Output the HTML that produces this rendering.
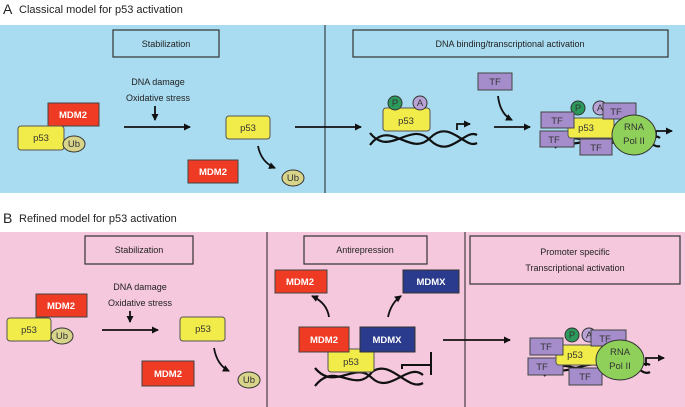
<!DOCTYPE html>
<html><head><meta charset="utf-8"><style>
body{margin:0;background:#fff}
svg{display:block;font-family:"Liberation Sans",sans-serif}
</style></head><body>
<svg width="685" height="407" viewBox="0 0 685 407">
<defs>
<marker id="ah" markerWidth="8" markerHeight="8" refX="6" refY="4" orient="auto" markerUnits="userSpaceOnUse"><path d="M0,0.5 L7,4 L0,7.5 z" fill="#111"/></marker>
</defs>
<style>
.t{font-size:9px;fill:#222;text-anchor:middle}
.w{font-size:9.5px;fill:#fff;text-anchor:middle;font-weight:bold}
.k{font-size:9.5px;fill:#333;text-anchor:middle}
.ln{stroke:#111;stroke-width:1.8;fill:none}
.box{fill:none;stroke:#333;stroke-width:1.2}
.y{fill:#f2ec4a;stroke:#555;stroke-width:1}
.r{fill:#ef3a24;stroke:#444;stroke-width:1}
.b{fill:#2a3a8c;stroke:#333;stroke-width:1}
.tf{fill:#a58ccb;stroke:#444;stroke-width:1}
.ub{fill:#d8d48a;stroke:#333;stroke-width:1}
.dna{stroke:#111;stroke-width:2.2;fill:none}
</style>
<text x="3" y="14" font-size="14" fill="#222">A</text>
<text x="19" y="13" font-size="11" fill="#222">Classical model for p53 activation</text>
<text x="3" y="223" font-size="14" fill="#222">B</text>
<text x="19" y="222" font-size="11" fill="#222">Refined model for p53 activation</text>

<rect x="0" y="25" width="685" height="168" fill="#a9dcf1"/>
<line x1="325" y1="25" x2="325" y2="193" stroke="#222" stroke-width="1"/>
<rect class="box" x="113" y="30" width="106" height="27"/>
<text class="t" x="166" y="47">Stabilization</text>
<rect class="box" x="353" y="30" width="315" height="27"/>
<text class="t" x="510" y="47">DNA binding/transcriptional activation</text>
<text class="t" x="158" y="85">DNA damage</text>
<text class="t" x="158" y="101">Oxidative stress</text>
<line class="ln" x1="155" y1="106" x2="155" y2="120" marker-end="url(#ah)"/>
<line class="ln" x1="124" y1="127" x2="190" y2="127" marker-end="url(#ah)"/>
<rect class="r" x="48" y="103" width="51" height="23"/>
<text class="w" x="73" y="118">MDM2</text>
<rect class="y" x="18" y="126" width="46" height="24" rx="3"/>
<text class="k" x="41" y="141">p53</text>
<ellipse class="ub" cx="74" cy="144" rx="11" ry="8"/>
<text class="k" x="74" y="147">Ub</text>
<rect class="y" x="226" y="116" width="44" height="23" rx="3"/>
<text class="k" x="248" y="131">p53</text>
<path class="ln" d="M258,146 Q261,162 275,168" marker-end="url(#ah)"/>
<ellipse class="ub" cx="293" cy="178" rx="11" ry="8"/>
<text class="k" x="293" y="181">Ub</text>
<rect class="r" x="188" y="160" width="50" height="23"/>
<text class="w" x="213" y="175">MDM2</text>
<line class="ln" x1="295" y1="127" x2="361" y2="127" marker-end="url(#ah)"/>
<path class="dna" d="M370,133 C390,158 410,120 430,140 C450,160 465,128 477,135"/>
<path class="dna" d="M370,145 C390,118 410,158 430,138 C450,118 465,150 477,143"/>
<path class="ln" d="M457,130 L457,124 L470,124" marker-end="url(#ah)"/>
<rect class="y" x="383" y="108" width="47" height="23" rx="3"/>
<text class="k" x="406" y="124">p53</text>
<circle cx="395" cy="103" r="7" fill="#2c9a5c" stroke="#333"/>
<text class="k" x="395" y="106" font-size="8">P</text>
<circle cx="420" cy="103" r="7" fill="#b9a3d6" stroke="#333"/>
<text class="k" x="420" y="106" font-size="8">A</text>
<rect class="tf" x="478" y="73" width="34" height="17"/>
<text class="k" x="495" y="85">TF</text>
<path class="ln" d="M498,96 Q500,114 512,120" marker-end="url(#ah)"/>
<line class="ln" x1="494" y1="127" x2="530" y2="127" marker-end="url(#ah)"/>
<path class="dna" d="M555,135 C575,158 600,125 620,142 C640,158 650,130 660,138"/>
<path class="dna" d="M555,148 C575,122 600,158 620,138 C640,122 650,150 660,146"/>
<path class="ln" d="M656,138 L656,131 L672,131" marker-end="url(#ah)"/>
<circle cx="578" cy="108" r="7" fill="#2c9a5c" stroke="#333"/><text class="k" x="578" y="111" font-size="8">P</text>
<circle cx="600" cy="108" r="7" fill="#b9a3d6" stroke="#333"/><text class="k" x="600" y="111" font-size="8">A</text>
<rect class="tf" x="540" y="131" width="34" height="16"/><text class="k" x="554" y="143">TF</text>
<rect class="y" x="568" y="118" width="46" height="20" rx="3"/><text class="k" x="586" y="131">p53</text>
<rect class="tf" x="541" y="112" width="33" height="16"/><text class="k" x="557" y="124">TF</text>
<rect class="tf" x="603" y="103" width="33" height="16"/><text class="k" x="616" y="115">TF</text>
<rect class="tf" x="580" y="139" width="32" height="16"/><text class="k" x="596" y="151">TF</text>
<ellipse cx="634" cy="135" rx="22" ry="20" fill="#8fd05a" stroke="#333"/>
<text class="k" x="634" y="130">RNA</text><text class="k" x="634" y="144">Pol II</text>

<rect x="0" y="232" width="685" height="175" fill="#f5c8dd"/>
<line x1="267" y1="232" x2="267" y2="407" stroke="#222" stroke-width="1"/>
<line x1="465" y1="232" x2="465" y2="407" stroke="#222" stroke-width="1"/>
<rect class="box" x="85" y="236" width="108" height="28"/>
<text class="t" x="139" y="253">Stabilization</text>
<text class="t" x="140" y="290">DNA damage</text>
<text class="t" x="140" y="306">Oxidative stress</text>
<line class="ln" x1="130" y1="311" x2="130" y2="322" marker-end="url(#ah)"/>
<line class="ln" x1="102" y1="330" x2="158" y2="330" marker-end="url(#ah)"/>
<rect class="r" x="36" y="294" width="51" height="23"/><text class="w" x="61" y="309">MDM2</text>
<rect class="y" x="7" y="318" width="44" height="23" rx="3"/><text class="k" x="29" y="333">p53</text>
<ellipse class="ub" cx="62" cy="336" rx="11" ry="8"/><text class="k" x="62" y="339">Ub</text>
<rect class="y" x="180" y="317" width="45" height="24" rx="3"/><text class="k" x="203" y="332">p53</text>
<path class="ln" d="M214,348 Q217,365 229,371" marker-end="url(#ah)"/>
<ellipse class="ub" cx="249" cy="380" rx="11" ry="8"/><text class="k" x="249" y="383">Ub</text>
<rect class="r" x="142" y="361" width="52" height="25"/><text class="w" x="168" y="377">MDM2</text>

<rect class="box" x="304" y="236" width="123" height="28"/>
<text class="t" x="365" y="253">Antirepression</text>
<rect class="r" x="275" y="270" width="52" height="23"/><text class="w" x="300" y="285">MDM2</text>
<rect class="b" x="403" y="270" width="56" height="23"/><text class="w" x="431" y="285">MDMX</text>
<path class="ln" d="M329,317 Q327,303 312,296" marker-end="url(#ah)"/>
<path class="ln" d="M388,317 Q391,303 401,296" marker-end="url(#ah)"/>
<path class="dna" d="M315,368 C335,392 355,360 372,378 C390,395 408,362 423,375"/>
<path class="dna" d="M315,386 C335,360 355,395 372,372 C390,358 408,392 423,383"/>
<path d="M402,369 L402,365 L431,365 M431,352 L431,375" stroke="#111" stroke-width="2" fill="none"/>
<rect class="y" x="328" y="349" width="46" height="23" rx="3"/><text class="k" x="351" y="365">p53</text>
<rect class="r" x="299" y="327" width="50" height="25"/><text class="w" x="324" y="343">MDM2</text>
<rect class="b" x="360" y="327" width="55" height="25"/><text class="w" x="387" y="343">MDMX</text>
<line class="ln" x1="443" y1="340" x2="510" y2="340" marker-end="url(#ah)"/>

<rect class="box" x="470" y="236" width="210" height="48"/>
<text class="t" x="575" y="255">Promoter specific</text>
<text class="t" x="575" y="271">Transcriptional activation</text>
<path class="dna" d="M544,362 C565,385 588,352 608,370 C628,385 640,358 650,365"/>
<path class="dna" d="M544,376 C565,350 588,385 608,365 C628,350 640,378 650,372"/>
<path class="ln" d="M646,366 L646,358 L664,358" marker-end="url(#ah)"/>
<circle cx="572" cy="335" r="7" fill="#2c9a5c" stroke="#333"/><text class="k" x="572" y="338" font-size="8">P</text>
<circle cx="589" cy="335" r="7" fill="#b9a3d6" stroke="#333"/><text class="k" x="589" y="338" font-size="8">A</text>
<rect class="tf" x="528" y="358" width="35" height="17"/><text class="k" x="542" y="370">TF</text>
<rect class="y" x="556" y="345" width="46" height="20" rx="3"/><text class="k" x="575" y="358">p53</text>
<rect class="tf" x="530" y="338" width="33" height="17"/><text class="k" x="546" y="350">TF</text>
<rect class="tf" x="591" y="330" width="35" height="16"/><text class="k" x="605" y="342">TF</text>
<rect class="tf" x="569" y="368" width="33" height="17"/><text class="k" x="585" y="380">TF</text>
<ellipse cx="620" cy="360" rx="24" ry="20" fill="#8fd05a" stroke="#333"/>
<text class="k" x="620" y="355">RNA</text><text class="k" x="620" y="369">Pol II</text>
</svg>
</body></html>
